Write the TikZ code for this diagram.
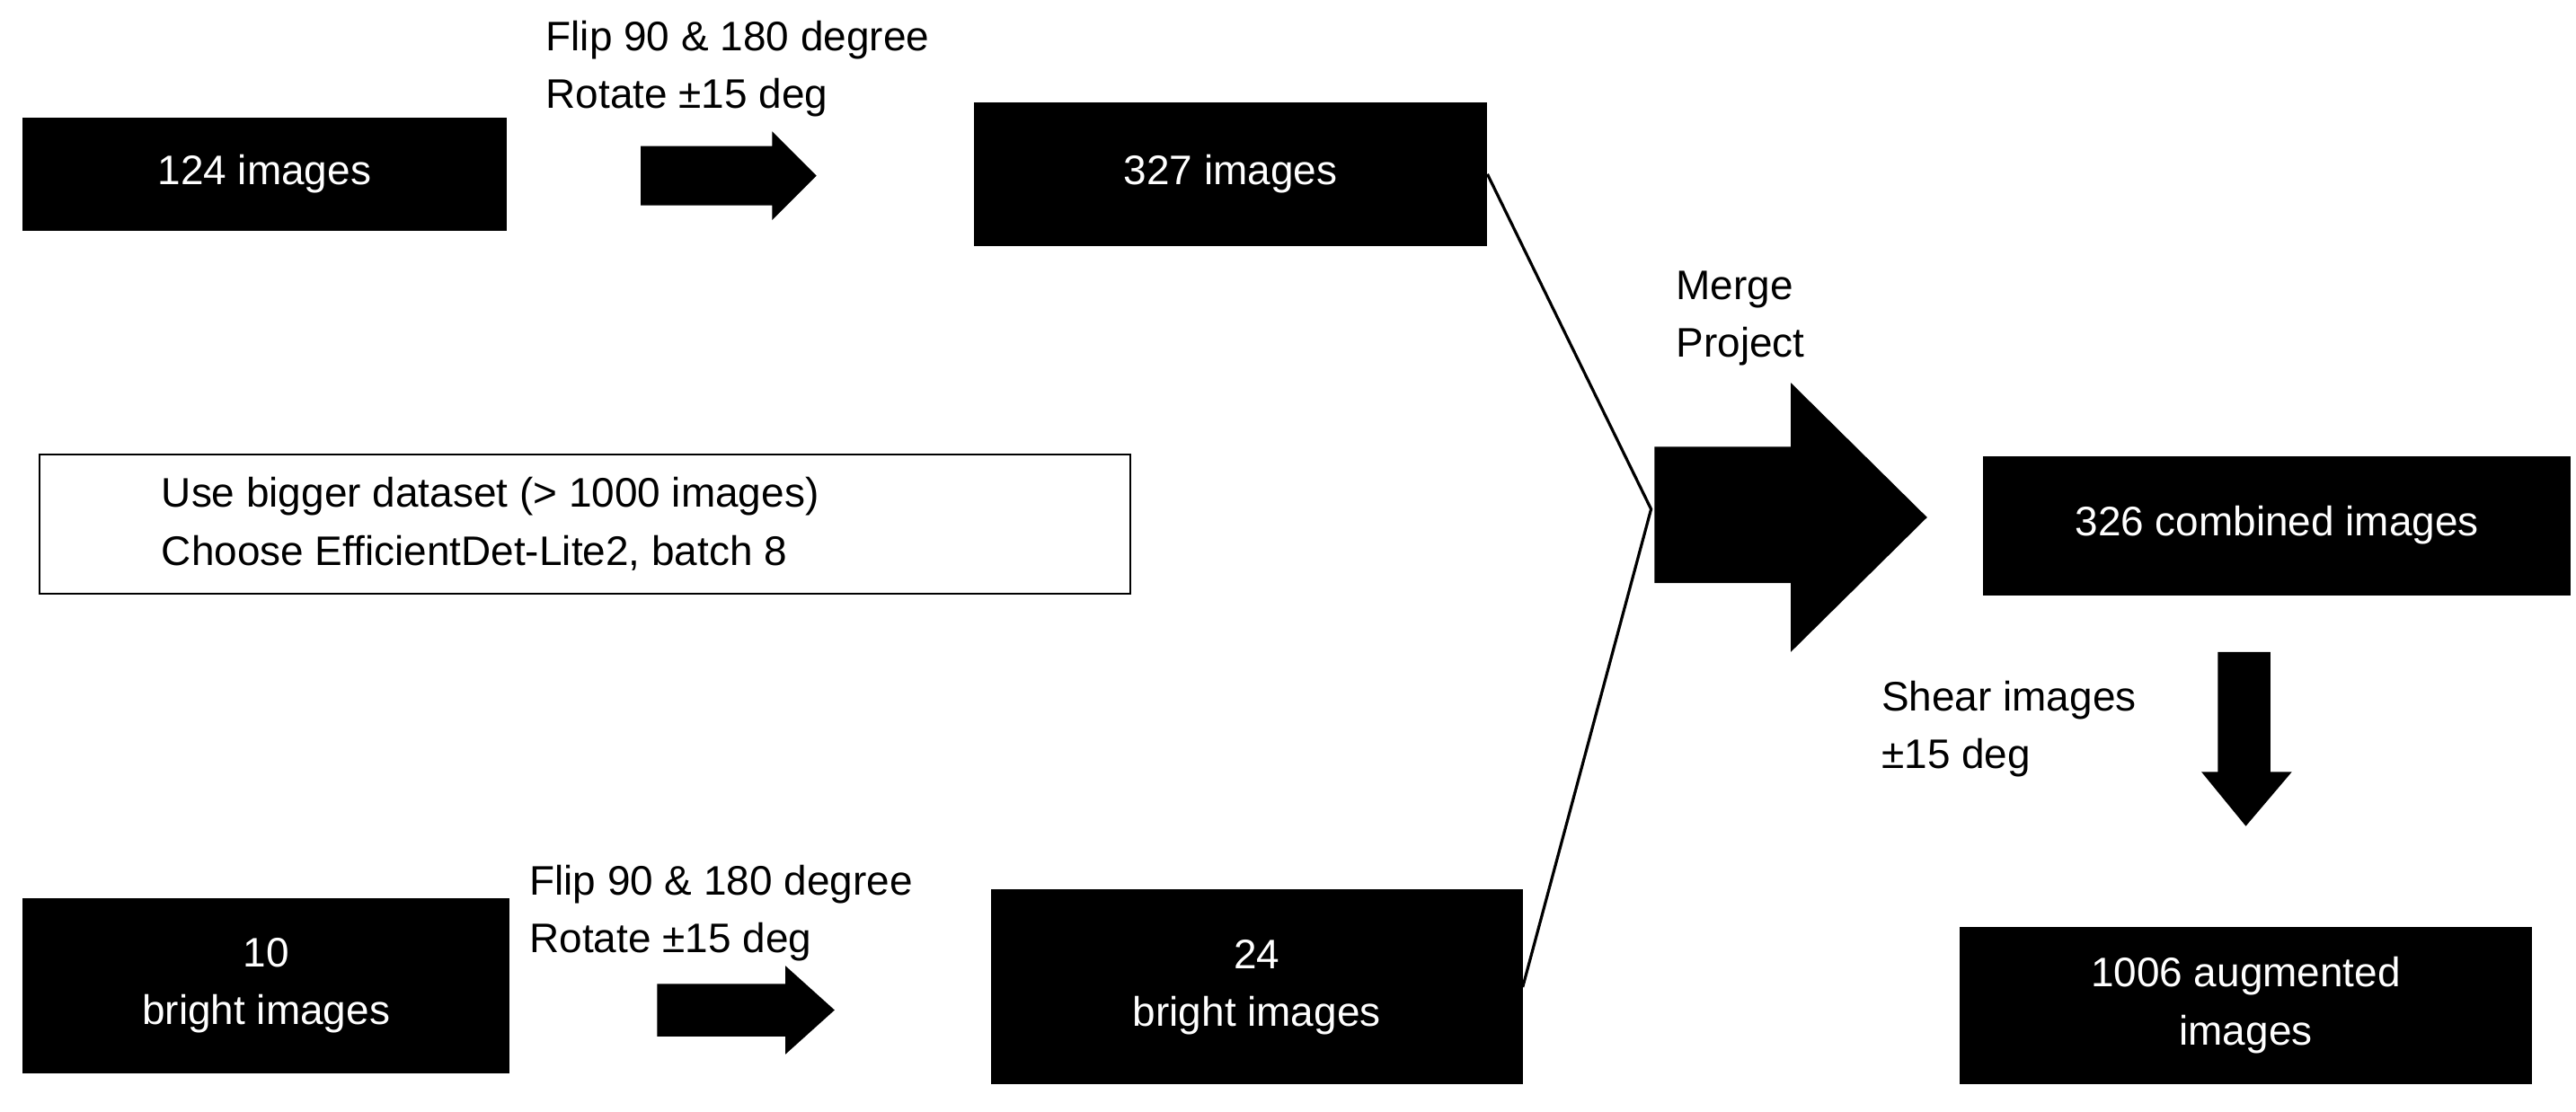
\documentclass[tikz,border=0pt]{standalone}
\usepackage{fontspec}
\setmainfont{Liberation Sans}
\begin{document}
\begin{tikzpicture}[x=0.02cm,y=-0.02cm,
  every node/.style={font=\fontsize{14.3}{20}\selectfont},
  blk/.style={fill=black,draw=black,text=white,inner sep=0,align=center},
  lbl/.style={anchor=west,inner sep=0,align=left}]
\useasboundingbox (0,0) rectangle (1568,677);
\node[blk,minimum width=294*0.02cm,minimum height=68*0.02cm] (b1) at (161,106) {124 images};
\node[blk,minimum width=312*0.02cm,minimum height=87*0.02cm] (b2) at (749,106) {327 images};
\node[draw=black,line width=0.6pt,fill=white,minimum width=664*0.02cm,minimum height=85*0.02cm] (w) at (356,319) {};
\node[lbl] (wt) at (98,319) {Use bigger dataset (> 1000 images)\\Choose EfficientDet-Lite2, batch 8};
\node[blk,minimum width=296*0.02cm,minimum height=106*0.02cm] (b3) at (162,600) {10\\bright images};
\node[blk,minimum width=323*0.02cm,minimum height=118*0.02cm] (b4) at (765,601) {24\\bright images};
\node[blk,minimum width=357*0.02cm,minimum height=84*0.02cm] (b5) at (1386,320) {326 combined images};
\node[blk,minimum width=348*0.02cm,minimum height=95*0.02cm] (b6) at (1367,612) {1006 augmented\\images};
\node[lbl] (t1) at (332,42) {Flip 90 \& 180 degree\\Rotate ±15 deg};
\node[lbl] (t2) at (322,556) {Flip 90 \& 180 degree\\Rotate ±15 deg};
\node[lbl] (t3) at (1020,194) {Merge\\Project};
\node[lbl] (t4) at (1145,444) {Shear images\\±15 deg};
% block arrows
\fill (390,89) -- (470,89) -- (470,80) -- (497,107) -- (470,134) -- (470,125) -- (390,125) -- cycle;
\fill (400,599) -- (478,599) -- (478,588) -- (508,615) -- (478,642) -- (478,631) -- (400,631) -- cycle;
\fill (1007,272) -- (1090,272) -- (1090,233) -- (1173,315) -- (1090,397) -- (1090,355) -- (1007,355) -- cycle;
\fill (1350,397) -- (1382,397) -- (1382,470) -- (1395,470) -- (1367,503) -- (1340,470) -- (1350,470) -- cycle;
\coordinate (m) at (1005,310);
\draw[line width=1pt] (b2.east) -- (m) -- (b4.east);
\end{tikzpicture}
\end{document}
